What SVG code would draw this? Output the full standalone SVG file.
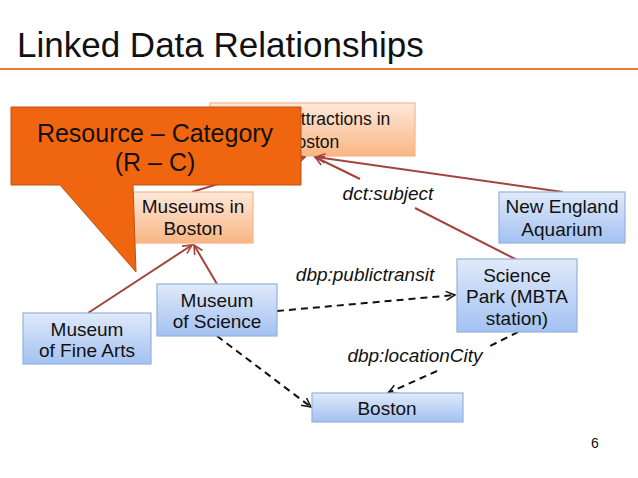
<svg xmlns="http://www.w3.org/2000/svg" width="638" height="478" viewBox="0 0 638 478">
  <defs>
    <linearGradient id="gBlue" x1="0" y1="0" x2="0" y2="1">
      <stop offset="0" stop-color="#e0eafa"/>
      <stop offset="1" stop-color="#a3c1f2"/>
    </linearGradient>
    <linearGradient id="gOrange" x1="0" y1="0" x2="0" y2="1">
      <stop offset="0" stop-color="#fde8da"/>
      <stop offset="1" stop-color="#f9b684"/>
    </linearGradient>
    <marker id="arrRed" markerUnits="userSpaceOnUse" markerWidth="14" markerHeight="14" refX="11" refY="6" orient="auto">
      <path d="M2,1.5 L11,6 L2,10.5" fill="none" stroke="#a3443e" stroke-width="1.6"/>
    </marker>
    <marker id="arrBlack" markerUnits="userSpaceOnUse" markerWidth="14" markerHeight="14" refX="11" refY="6" orient="auto">
      <path d="M2,1.5 L11,6 L2,10.5" fill="none" stroke="#111" stroke-width="1.5"/>
    </marker>
  </defs>
  <style>
    .t { font-family: "Liberation Sans", Arial, sans-serif; fill: #111; }
    .node { font-size: 19px; text-anchor: middle; }
    .lbl { font-size: 19px; font-style: italic; text-anchor: middle; }
    .blue { fill: url(#gBlue); stroke: #95b3db; stroke-width: 1.2; }
    .orange { fill: url(#gOrange); stroke: #f3b68c; stroke-width: 1.2; }
    .solid { fill: none; stroke: #a3443e; stroke-width: 2; marker-end: url(#arrRed); }
    .dash { fill: none; stroke: #111; stroke-width: 2; stroke-dasharray: 7 5; marker-end: url(#arrBlack); }
  </style>
  <rect width="638" height="478" fill="#ffffff"/>

  <text class="t" x="17" y="57" font-size="35">Linked Data Relationships</text>
  <line x1="0" y1="69" x2="638" y2="69" stroke="#f07a2e" stroke-width="2"/>

  <g id="n-tourist">
    <rect class="orange" x="210" y="103" width="205" height="53"/>
    <text class="t" x="312" y="125" font-size="17.5" text-anchor="middle">Tourist Attractions in</text>
    <text class="t" x="312" y="148" font-size="17.5" text-anchor="middle">Boston</text>
  </g>

  <g id="connectors">
    <path class="solid" d="M192,192 L305,157"/>
    <path class="solid" d="M563,192 L316,157"/>
    <path class="solid" d="M517,260 L415,208 M360,179 L315,157"/>
    <path class="solid" d="M88,313 L192,245"/>
    <path class="solid" d="M217,284 L194,245"/>
    <path class="dash" d="M277,311 L455,295"/>
    <path class="dash" d="M217,336 L311,407"/>
    <path class="dash" d="M518,332 L490,346 M437,371 L388,393"/>
    <text class="t lbl" x="388" y="200">dct:subject</text>
    <text class="t lbl" x="365" y="281">dbp:publictransit</text>
    <text class="t lbl" x="415" y="362">dbp:locationCity</text>
  </g>

  <g id="n-museums-boston">
    <rect class="orange" x="133" y="192" width="120" height="51"/>
    <text class="t node" x="193" y="213">Museums in</text>
    <text class="t node" x="193" y="235">Boston</text>
  </g>

  <g id="n-aquarium">
    <rect class="blue" x="499" y="192" width="126" height="51"/>
    <text class="t node" x="562" y="213">New England</text>
    <text class="t node" x="562" y="236">Aquarium</text>
  </g>

  <g id="n-sciencepark">
    <rect class="blue" x="457" y="259" width="120" height="73"/>
    <text class="t node" x="517" y="282">Science</text>
    <text class="t node" x="517" y="303">Park (MBTA</text>
    <text class="t node" x="517" y="325">station)</text>
  </g>

  <g id="n-mos">
    <rect class="blue" x="157" y="284" width="120" height="52"/>
    <text class="t node" x="217" y="307">Museum</text>
    <text class="t node" x="217" y="328">of Science</text>
  </g>

  <g id="n-mfa">
    <rect class="blue" x="23" y="313" width="128" height="51"/>
    <text class="t node" x="87" y="336">Museum</text>
    <text class="t node" x="87" y="357">of Fine Arts</text>
  </g>

  <g id="n-boston">
    <rect class="blue" x="312" y="393" width="151" height="29"/>
    <text class="t node" x="387" y="415">Boston</text>
  </g>

  <g id="callout">
    <path d="M11,107 H301 V185 H133 L136,272 L60,185 H11 Z" fill="#f0650f" stroke="#b9531a" stroke-width="1"/>
    <text class="t" x="155" y="142" font-size="25" text-anchor="middle">Resource – Category</text>
    <text class="t" x="155" y="171" font-size="25" text-anchor="middle">(R – C)</text>
  </g>

  <text class="t" x="595" y="448" font-size="14" text-anchor="middle">6</text>
</svg>
